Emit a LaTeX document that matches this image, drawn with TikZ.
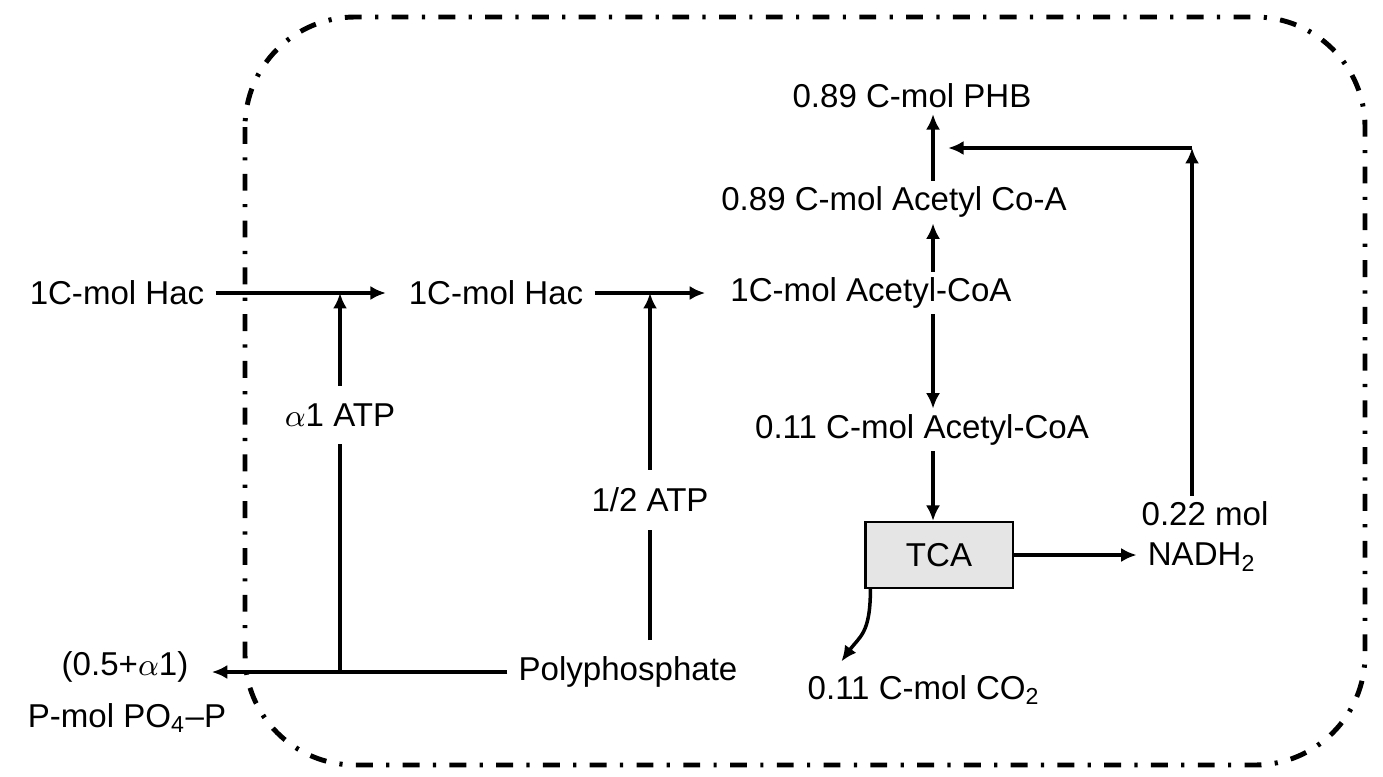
\documentclass[tikz,border=0pt]{standalone}
\usepackage{fontspec}
\setmainfont{Liberation Sans}
\usetikzlibrary{positioning, arrows.meta}

\begin{document}
\begin{tikzpicture}[
    x=0.01cm, y=-0.01cm,
    lbl/.style={font=\fontsize{9.4}{11.2}\selectfont, inner xsep=3pt, inner ysep=1.5pt},
    box/.style={rectangle, draw, line width=0.6pt, fill=gray!20, minimum width=1.47cm, minimum height=0.66cm, font=\fontsize{9.4}{11.2}\selectfont},
    arr/.style={-{Latex[length=4.4pt,width=4pt]}, line width=1pt},
    cell/.style={draw, line width=1.4pt, rounded corners=1.1cm, dash pattern=on 4.8pt off 3.8pt on 0.9pt off 3.8pt}
]
    \useasboundingbox (0,0) rectangle (1383,776);
    \draw[cell] (245,17) rectangle (1365,765);

    \node[lbl] (hacout) at (117,293) {1C-mol Hac};
    \node[lbl] (hacin) at (496,293) {1C-mol Hac};
    \node[lbl] (acoa) at (871,293) {1C-mol Acetyl-CoA};
    \node[lbl] (acco) at (894,202) {0.89 C-mol Acetyl Co-A};
    \node[lbl] (phb) at (912,96) {0.89 C-mol PHB};
    \node[lbl] (acoa2) at (922,430) {0.11 C-mol Acetyl-CoA};
    \node[box] (tca) at (939,555) {TCA};
    \node[lbl] (nadhA) at (1205,514) {0.22 mol};
    \node[lbl] (nadhB) at (1202,557) {NADH\textsubscript{2}};
    \node[lbl] (co2) at (924,690) {0.11 C-mol CO\textsubscript{2}};
    \node[lbl] (poly) at (628,672) {Polyphosphate};
    \node[lbl] (ppout) at (125,667) {(0.5+$\alpha$1)};
    \node[lbl] (pmol) at (127,718) {P-mol PO\textsubscript{4}--P};

    \coordinate (col) at (933,0);
    \coordinate (j1) at (340,293);
    \coordinate (j2) at (650,293);
    \coordinate (p2) at (650,640);
    \coordinate (turn) at (1192,148);

    % uptake
    \draw[arr, shorten >=3.3pt] (hacout.east) -- (hacin.west);
    \draw[arr, shorten >=4pt] (hacin.east) -- (acoa.west);
    \draw[arr] (j1 |- poly.west) -- node[lbl, fill=white, inner ysep=5pt, pos=0.678] (atp1) {$\alpha$1 ATP} (j1);
    \draw[arr] (p2) -- node[lbl, fill=white, inner ysep=5pt, pos=0.403] (atp2) {1/2 ATP} (j2);
    \draw[arr, shorten >=3.5pt] (poly.west) -- (poly.west -| ppout.east);

    % acetyl-CoA
    \draw[arr] (acoa.north -| col) -- (acco.south -| col);
    \draw[arr] (acco.north -| col) -- (phb.south -| col);
    \draw[arr] (acoa.south -| col) -- (acoa2.north -| col);
    \draw[arr] (acoa2.south -| col) -- (tca.north -| col);

    % TCA
    \draw[arr] (tca.east) -- (nadhB.west |- tca.east);
    \draw[arr] ([xshift=0.06cm]tca.south west) .. controls +(0,45) and +(18,-25) .. ([shift={(45,-8)}]co2.north west);
    \draw[arr] (nadhA.north -| turn) -- (turn);
    \draw[arr, shorten >=4.3pt] (turn) -- (turn -| col);
\end{tikzpicture}
\end{document}
